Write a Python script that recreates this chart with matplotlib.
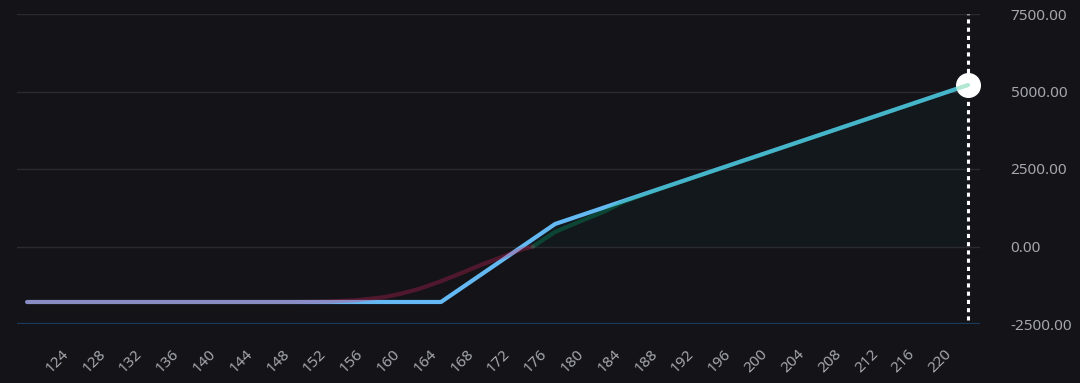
import matplotlib
matplotlib.use("Agg")
import matplotlib.pyplot as plt
import matplotlib.transforms as mtransforms
import numpy as np

plt.rcParams['font.family'] = ['Noto Sans', 'DejaVu Sans']

# Expiration payoff (kinks)
payoff_x = [119.3, 164.3, 176.7, 221.6]
payoff_y = [-1790, -1790, 726, 5210]

# T+0 theoretical curve
curve_x = [119.3, 148, 152, 155, 158, 160, 162, 164.2, 166, 168.6, 171, 172.9, 174.3,
           176.7, 179.4, 182, 184, 188, 221.6]
curve_y = [-1790, -1790, -1775, -1735, -1640, -1520, -1360, -1130, -920, -600, -330, -110, 0,
           470, 810, 1120, 1420, 1850, 5210]

x_ticks = list(range(124, 221, 4))
y_ticks = [-2500, 0, 2500, 5000, 7500]
y_labels = ["-2500.00", "0.00", "2500.00", "5000.00", "7500.00"]

BG = '#131318'
W, H = 1080, 383
fig = plt.figure(figsize=(W / 100, H / 100), dpi=100, facecolor=BG)
ax = fig.add_axes([17 / W, 59 / H, (980 - 17) / W, 310 / H])
ax.set_facecolor(BG)
ax.set_xlim(118.2, 222.9)
ax.set_ylim(-2500, 7500)

for s in ax.spines.values():
    s.set_visible(False)

# grid lines
for yv in y_ticks:
    if yv == -2500:
        ax.axhline(yv, color='#1b3a5c', lw=1.6, zorder=1)
    else:
        ax.axhline(yv, color='#2a2a30', lw=1.0, zorder=1)

px = np.array(payoff_x)
py = np.array(payoff_y)
ax.fill_between(px, py, 0, where=py > 0, interpolate=True, color='#00c080', alpha=0.03,
                lw=0, zorder=2)

# payoff line
ax.plot(px, py, color='#64b9f2', lw=3.0, solid_capstyle='round', solid_joinstyle='round',
        zorder=3)

# vertical dotted line at current end
ax.plot([payoff_x[-1], payoff_x[-1]], [-2380, 7500], color='white', lw=2.2,
        dashes=(1.35, 1.35), dash_capstyle='butt', zorder=4)

# end marker
ax.plot([payoff_x[-1]], [payoff_y[-1]], 'o', color='white', markersize=17, mec='white',
        zorder=5)

# T+0 curve: red below zero, green above
cx = np.array(curve_x)
cy = np.array(curve_y)
neg = cy <= 0
pos = cy >= 0
ax.plot(cx[neg], cy[neg], color='#e0245e', alpha=0.3, lw=3.0, solid_capstyle='round',
        zorder=6)
ax.plot(cx[pos], cy[pos], color='#00b070', alpha=0.3, lw=3.0, solid_capstyle='round',
        zorder=6)

# ticks
ax.set_xticks(x_ticks)
ax.set_xticklabels([str(t) for t in x_ticks], rotation=45, ha='right',
                   rotation_mode='anchor', fontsize=11, color='#a6a6ae')
ax.tick_params(axis='x', length=0, pad=15)
offset = mtransforms.ScaledTranslation(-9 / 100, -2 / 100, fig.dpi_scale_trans)
for lab in ax.get_xticklabels():
    lab.set_transform(lab.get_transform() + offset)
ax.yaxis.tick_right()
ax.set_yticks(y_ticks)
ax.set_yticklabels(y_labels, fontsize=11, color='#a6a6ae')
ax.tick_params(axis='y', length=0, pad=22)

fig.savefig('out.png', dpi=100, facecolor=BG)
